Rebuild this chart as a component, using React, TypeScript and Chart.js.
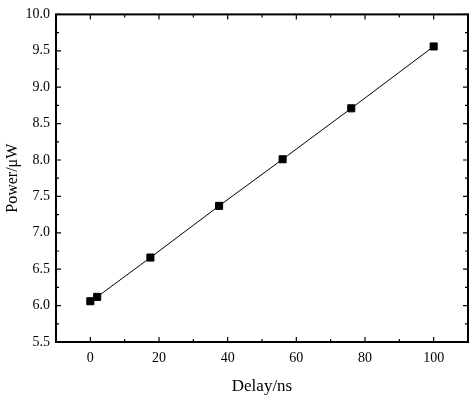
import { useEffect, useRef } from "react";
import { Chart, registerables } from "chart.js";

Chart.register(...registerables);

const delays = [0, 2, 17.5, 37.5, 56, 76, 100];
const powers = [6.06, 6.12, 6.66, 7.37, 8.01, 8.71, 9.56];
const xTicks = [0, 20, 40, 60, 80, 100];
const yTicks = [5.5, 6.0, 6.5, 7.0, 7.5, 8.0, 8.5, 9.0, 9.5, 10.0];
const xMinorTicks = [-10, 10, 30, 50, 70, 90, 110];
const yMinorTicks = [5.75, 6.25, 6.75, 7.25, 7.75, 8.25, 8.75, 9.25, 9.75];

const serif = "'Liberation Serif', 'Times New Roman', serif";

// frame + inward ticks on all four sides
const framePlugin = {
  id: "frame",
  afterDraw(chart: any) {
    const { ctx, chartArea: a, scales } = chart;
    const xs = scales.x;
    const ys = scales.y;
    ctx.save();
    ctx.strokeStyle = "#000";
    ctx.lineWidth = 1.2;
    ctx.beginPath();
    const tick = (vals: number[], len: number) => {
      vals.forEach((v) => {
        const px = xs.getPixelForValue(v);
        if (px < a.left - 0.5 || px > a.right + 0.5) return;
        ctx.moveTo(px, a.bottom);
        ctx.lineTo(px, a.bottom - len);
        ctx.moveTo(px, a.top);
        ctx.lineTo(px, a.top + len);
      });
    };
    const tickY = (vals: number[], len: number) => {
      vals.forEach((v) => {
        const py = ys.getPixelForValue(v);
        ctx.moveTo(a.left, py);
        ctx.lineTo(a.left + len, py);
        ctx.moveTo(a.right, py);
        ctx.lineTo(a.right - len, py);
      });
    };
    tick(xTicks, 5);
    tick(xMinorTicks, 3);
    tickY(yTicks, 5);
    tickY(yMinorTicks, 3);
    ctx.stroke();
    ctx.lineWidth = 2;
    ctx.strokeRect(a.left, a.top, a.right - a.left, a.bottom - a.top);
    ctx.restore();
  },
};

const App = () => {
  const canvasRef = useRef<HTMLCanvasElement>(null);

  useEffect(() => {
    let chart: Chart | null = null;
    if (canvasRef.current) {
      chart = new Chart(canvasRef.current, {
        type: "scatter",
        data: {
          datasets: [
            {
              data: delays.map((d, i) => ({ x: d, y: powers[i] })),
              showLine: true,
              borderColor: "#000",
              borderWidth: 1,
              backgroundColor: "#000",
              pointStyle: "rect",
              pointRadius: 5,
              pointBorderWidth: 1,
              pointBorderColor: "#000",
            },
          ],
        },
        options: {
          animation: false,
          responsive: true,
          maintainAspectRatio: false,
          layout: { padding: { left: 0, right: 5, top: 12, bottom: 0 } },
          plugins: {
            legend: { display: false },
            tooltip: { enabled: false },
          },
          scales: {
            x: {
              type: "linear",
              min: -10,
              max: 110,
              grid: { display: false, drawTicks: false },
              border: { display: false },
              afterBuildTicks: (s: any) => {
                s.ticks = xTicks.map((v) => ({ value: v }));
              },
              afterFit: (s: any) => {
                s.height = 58;
              },
              ticks: {
                color: "#000",
                padding: 8,
                maxRotation: 0,
                font: { family: serif, size: 14 },
              },
              title: {
                display: true,
                text: "Delay/ns",
                color: "#000",
                font: { family: serif, size: 17 },
                padding: { top: 0, bottom: 3 },
              },
            },
            y: {
              type: "linear",
              min: 5.5,
              max: 10,
              grid: { display: false, drawTicks: false },
              border: { display: false },
              afterBuildTicks: (s: any) => {
                s.ticks = yTicks.map((v) => ({ value: v }));
              },
              afterFit: (s: any) => {
                s.width = 56;
              },
              ticks: {
                color: "#000",
                padding: 6,
                font: { family: serif, size: 14 },
                callback: (v: any) => Number(v).toFixed(1),
              },
              title: {
                display: true,
                text: "Power/μW",
                color: "#000",
                font: { family: serif, size: 16 },
                padding: { top: 3, bottom: 0 },
              },
            },
          },
        },
        plugins: [framePlugin],
      });
    }
    return () => {
      if (chart) chart.destroy();
    };
  }, []);

  return (
    <div
      style={{
        position: "fixed",
        left: 0,
        top: 0,
        width: 474,
        height: 400,
        background: "#fff",
      }}
    >
      <canvas ref={canvasRef} />
    </div>
  );
};

export default App;
